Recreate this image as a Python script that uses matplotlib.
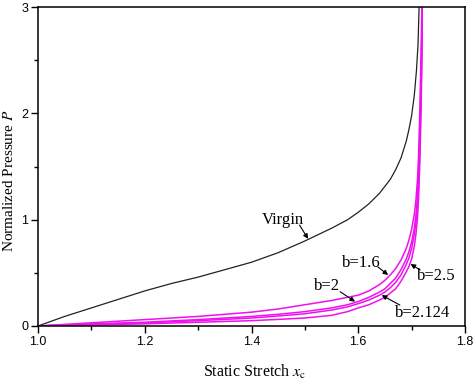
import numpy as np
import matplotlib.pyplot as plt
from matplotlib.ticker import MultipleLocator

plt.rcParams['mathtext.fontset'] = 'stix'

# Virgin curve
x_virgin = [1.0, 1.05, 1.1, 1.15, 1.2, 1.25, 1.3, 1.35, 1.4, 1.45, 1.5, 1.55, 1.58, 1.6,
            1.62, 1.64, 1.66, 1.67, 1.68, 1.69, 1.695, 1.70, 1.705, 1.709, 1.712, 1.714]
p_virgin = [0.0, 0.09, 0.17, 0.25, 0.33, 0.40, 0.46, 0.53, 0.60, 0.69, 0.80, 0.92, 1.0, 1.07,
            1.15, 1.25, 1.38, 1.47, 1.58, 1.74, 1.85, 1.98, 2.17, 2.4, 2.65, 3.0]

# damaged curves
x_b = [1.0, 1.1, 1.2, 1.3, 1.4, 1.45, 1.5, 1.55, 1.58, 1.6, 1.62, 1.64, 1.65, 1.66, 1.67,
       1.68, 1.69, 1.695, 1.70, 1.705, 1.708, 1.711, 1.713, 1.715, 1.717, 1.719, 1.72]
p_b16 = [0.0, 0.03, 0.06, 0.09, 0.13, 0.16, 0.20, 0.24, 0.27, 0.29, 0.33, 0.39, 0.43, 0.48, 0.54,
         0.62, 0.73, 0.81, 0.91, 1.05, 1.18, 1.38, 1.6, 1.95, 2.4, 2.95, 3.4]
p_b2 = [0.0, 0.02, 0.035, 0.06, 0.09, 0.11, 0.135, 0.17, 0.20, 0.23, 0.27, 0.32, 0.35, 0.40, 0.45,
        0.53, 0.63, 0.70, 0.79, 0.92, 1.04, 1.22, 1.42, 1.72, 2.15, 2.7, 3.2]
p_b2124 = [0.0, 0.015, 0.03, 0.05, 0.075, 0.094, 0.115, 0.15, 0.18, 0.21, 0.245, 0.29, 0.32, 0.36,
           0.41, 0.48, 0.58, 0.64, 0.73, 0.86, 0.97, 1.13, 1.32, 1.6, 2.0, 2.55, 3.05]
p_b25 = [0.0, 0.01, 0.02, 0.035, 0.05, 0.062, 0.075, 0.10, 0.135, 0.17, 0.20, 0.245, 0.27, 0.31,
         0.35, 0.42, 0.51, 0.56, 0.63, 0.75, 0.86, 1.02, 1.2, 1.48, 1.88, 2.4, 2.9]

fig = plt.figure(figsize=(4.74, 3.81), dpi=100)
ax = fig.add_axes([0.0802, 0.1444, 0.9008, 0.8366])

ax.plot(x_virgin, p_virgin, color='#222222', lw=0.9)
for p in (p_b16, p_b2, p_b2124, p_b25):
    ax.plot(x_b, p, color='#ee11ee', lw=1.1)

ax.set_xlim(1.0, 1.8)
ax.set_ylim(0, 3)
ax.xaxis.set_minor_locator(MultipleLocator(0.1))
ax.yaxis.set_minor_locator(MultipleLocator(0.5))
ax.set_xticks([1.0, 1.2, 1.4, 1.6, 1.8])
ax.set_yticks([0, 1, 2, 3])
ax.set_xticklabels(['1.0', '1.2', '1.4', '1.6', '1.8'], fontsize=9, family='Liberation Sans')
ax.set_yticklabels(['0', '1', '2', '3'], fontsize=9, family='Liberation Sans')
ax.tick_params(which='major', length=5, width=1.0, direction='out', pad=2)
ax.tick_params(which='minor', length=3, width=1.0, direction='out')
for s in ax.spines.values():
    s.set_linewidth(1.1)

ax.set_xlabel('Static Stretch $x_\\mathrm{c}$', family='Liberation Serif', fontsize=11.5)
ax.xaxis.set_label_coords(0.508, -0.115)
ax.set_ylabel('Normalized Pressure $P$', family='Liberation Serif', fontsize=11)
ax.yaxis.set_label_coords(-0.052, 0.455)

arrow = dict(arrowstyle='-|>', color='k', lw=0.8, mutation_scale=7, shrinkA=0, shrinkB=0)
txt = dict(family='Liberation Serif', fontsize=12, ha='center', va='center')
ax.annotate('', xy=(1.506, 0.82), xytext=(1.49, 0.95), arrowprops=arrow)
ax.text(1.459, 1.0, 'Virgin', **txt)
ax.annotate('', xy=(1.656, 0.48), xytext=(1.637, 0.555), arrowprops=arrow)
ax.text(1.606, 0.59, 'b=1.6', **txt)
ax.annotate('', xy=(1.594, 0.229), xytext=(1.566, 0.323), arrowprops=arrow)
ax.text(1.541, 0.379, 'b=2', **txt)
ax.annotate('', xy=(1.698, 0.583), xytext=(1.716, 0.527), arrowprops=arrow)
ax.text(1.747, 0.47, 'b=2.5', **txt)
ax.annotate('', xy=(1.644, 0.29), xytext=(1.678, 0.197), arrowprops=arrow)
ax.text(1.721, 0.125, 'b=2.124', **txt)

fig.savefig('out.png', dpi=100)
